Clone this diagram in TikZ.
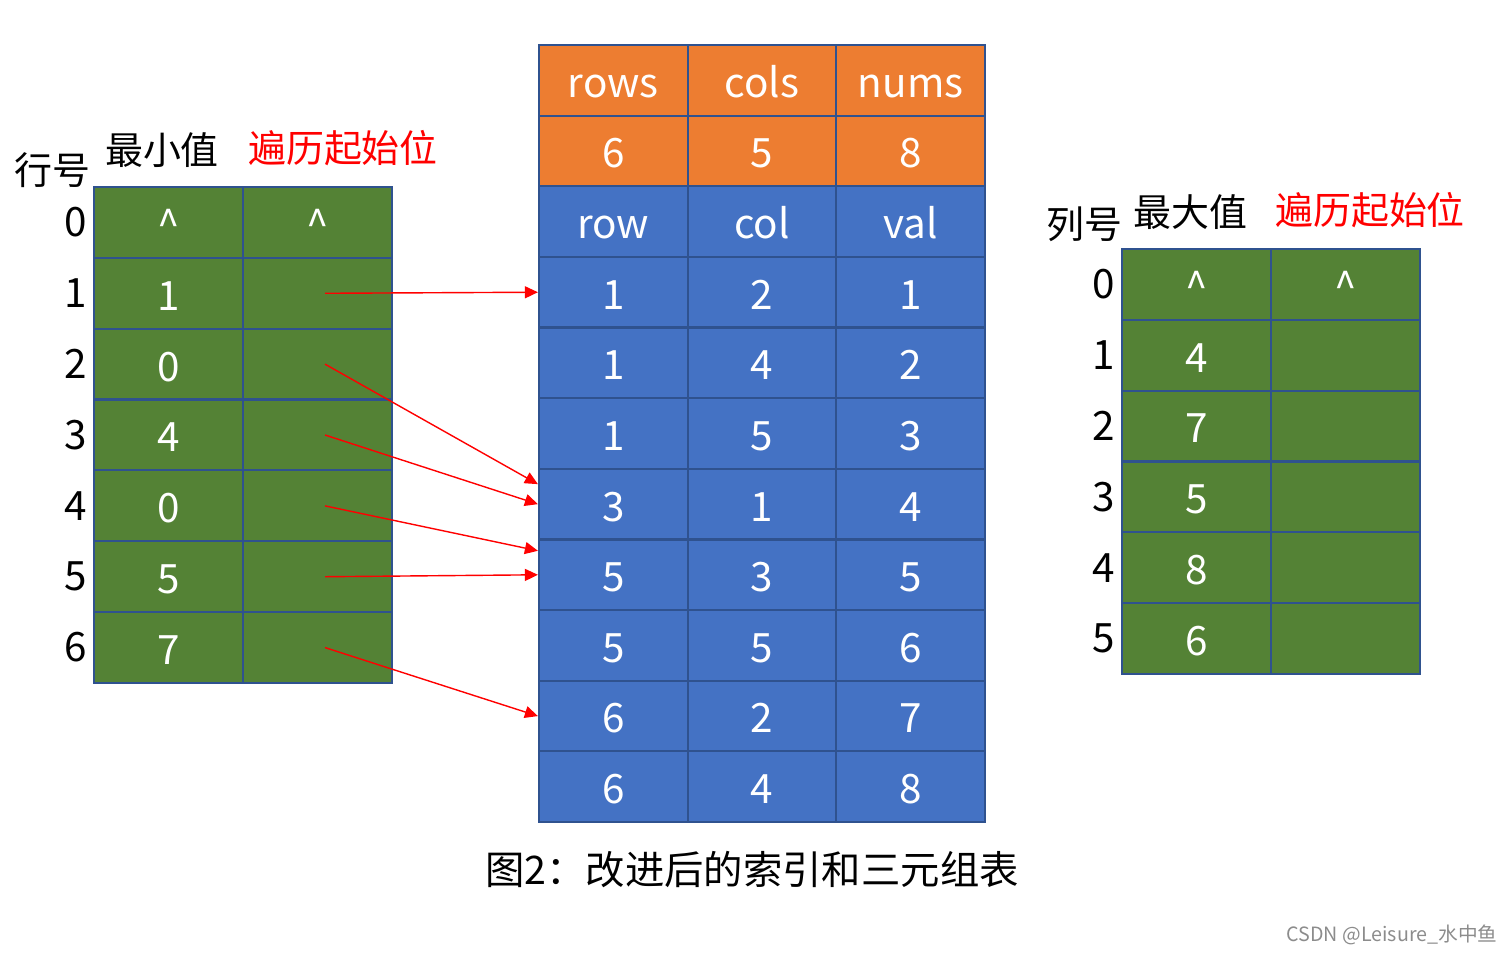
\documentclass[tikz,border=0pt]{standalone}
\usepackage{fontspec}
\setmainfont{Noto Sans CJK SC}
\usetikzlibrary{arrows.meta}
\definecolor{cellgreen}{HTML}{548235}
\definecolor{cellorange}{HTML}{ED7D31}
\definecolor{cellblue}{HTML}{4472C4}
\definecolor{cellline}{HTML}{2F528F}

\begin{document}
\begin{tikzpicture}[
  y=-1cm,
  cell/.style={draw=cellline,line width=0.6pt,inner sep=0pt,text=white,
    text height=12pt,text depth=2.4pt,font=\fontsize{11.5}{13}\selectfont},
  idxcell/.style={cell,fill=cellgreen,minimum width=1.49cm,minimum height=0.709cm},
  tricell/.style={cell,minimum width=1.487cm,minimum height=0.706cm},
  idx/.style={anchor=east,inner sep=0pt,font=\fontsize{11.5}{13}\selectfont},
  head/.style={inner sep=0pt,font=\fontsize{10.8}{12}\selectfont},
  link/.style={-{Triangle[length=1.3mm,width=1.2mm]},red,line width=0.4pt}
]
  \useasboundingbox (0,0) rectangle (15.11,9.54);

  % row index: min column and start position
  \foreach \v/\s [count=\i from 0] in {{\textasciicircum}/{\textasciicircum},1/{},0/{},4/{},0/{},5/{},7/{}}{
    \node[idxcell] (min\i) at (1.685,{1.87+0.7086*(\i+0.5)}) {\v};
    \node[idxcell] (start\i) at (3.175,{1.87+0.7086*(\i+0.5)}) {\s};
    \node[idx] at ([xshift=-0.05cm]min\i.west) {\i};
  }
  \node[head] at (0.52,1.70) {行号};
  \node[head] at (1.62,1.50) {最小值};
  \node[head,red] at (3.43,1.48) {遍历起始位};

  % triple table
  \foreach \a/\b/\c [count=\j from 0] in {rows/cols/nums,6/5/8}{
    \node[tricell,fill=cellorange] (t\j-1) at (6.133,{0.45+0.7064*(\j+0.5)}) {\a};
    \node[tricell,fill=cellorange] (t\j-2) at (7.62,{0.45+0.7064*(\j+0.5)}) {\b};
    \node[tricell,fill=cellorange] (t\j-3) at (9.107,{0.45+0.7064*(\j+0.5)}) {\c};
  }
  \foreach \a/\b/\c [count=\j from 2] in {row/col/val,1/2/1,1/4/2,1/5/3,3/1/4,5/3/5,5/5/6,6/2/7,6/4/8}{
    \node[tricell,fill=cellblue] (t\j-1) at (6.133,{0.45+0.7064*(\j+0.5)}) {\a};
    \node[tricell,fill=cellblue] (t\j-2) at (7.62,{0.45+0.7064*(\j+0.5)}) {\b};
    \node[tricell,fill=cellblue] (t\j-3) at (9.107,{0.45+0.7064*(\j+0.5)}) {\c};
  }

  % column index: max row and start position
  \foreach \v/\s [count=\i from 0] in {{\textasciicircum}/{\textasciicircum},4/{},7/{},5/{},8/{},6/{}}{
    \node[idxcell] (max\i) at (11.965,{2.49+0.7083*(\i+0.5)}) {\v};
    \node[idxcell] (cstart\i) at (13.455,{2.49+0.7083*(\i+0.5)}) {\s};
    \node[idx] at ([xshift=-0.05cm]max\i.west) {\i};
  }
  \node[head] at (10.84,2.24) {列号};
  \node[head] at (11.90,2.12) {最大值};
  \node[head,red] at (13.70,2.10) {遍历起始位};

  % start links
  \draw[link] ([xshift=0.075cm]start1.center) -- (t3-1.west);
  \draw[link] ([xshift=0.075cm]start2.center) -- ([yshift=0.2cm]t6-1.west);
  \draw[link] ([xshift=0.075cm]start3.center) -- (t6-1.west);
  \draw[link] ([xshift=0.075cm]start4.center) -- ([yshift=0.24cm]t7-1.west);
  \draw[link] ([xshift=0.075cm]start5.center) -- (t7-1.west);
  \draw[link] ([xshift=0.075cm]start6.center) -- (t9-1.west);

  \node[font=\fontsize{11.2}{13}\selectfont] (caption) at (7.52,8.70) {图2：改进后的索引和三元组表};
  \node[text=black!45,font=\fontsize{5.6}{7}\selectfont] (mark) at (13.92,9.35) {CSDN @Leisure\_水中鱼};
\end{tikzpicture}
\end{document}
